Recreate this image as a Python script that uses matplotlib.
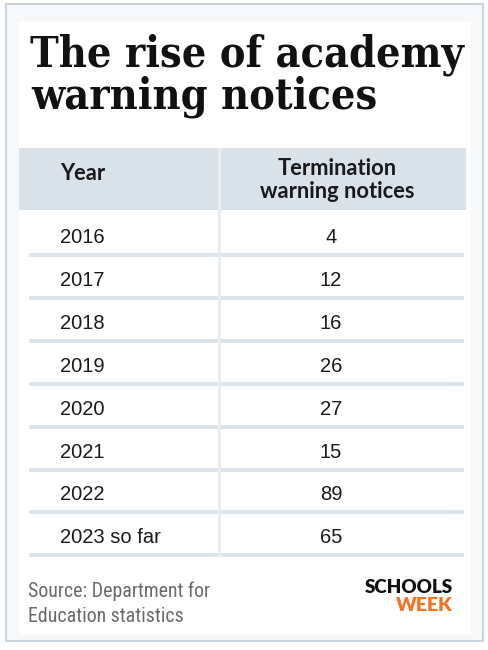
import matplotlib
matplotlib.use("Agg")
import matplotlib.pyplot as plt
from matplotlib import font_manager as fm
from matplotlib.patches import Rectangle

# ---- data ----
title_lines = ["The rise of academy", "warning notices"]
col_headers = ["Year", "Termination\nwarning notices"]
years = ["2016", "2017", "2018", "2019", "2020", "2021", "2022", "2023 so far"]
notices = [4, 12, 16, 26, 27, 15, 89, 65]
source_lines = ["Source: Department for", "Education statistics"]
logo_lines = ["SCHOOLS", "WEEK"]

# ---- fonts ----
ttf = fm.fontManager.ttflist
names = {f.name for f in ttf}

def pick(*cands):
    for c in cands:
        if c in names:
            return c
    return "DejaVu Sans"

has_cond_serif = any(f.name == "DejaVu Serif" and f.stretch == "condensed" for f in ttf)
TITLE_FONT = "DejaVu Serif" if has_cond_serif else pick("Liberation Serif", "DejaVu Serif")
HEAD_FONT = pick("Lato", "Inter", "Open Sans")
BODY_FONT = pick("Liberation Sans", "Roboto")
SRC_FONT = pick("Liberation Sans Narrow", "Roboto Condensed", "Roboto")
LOGO_FONT = pick("Lato", "Inter", "Open Sans")

W, H = 489, 650
fig = plt.figure(figsize=(W / 100, H / 100), dpi=100)
ax = fig.add_axes([0, 0, 1, 1])
ax.set_xlim(0, W)
ax.set_ylim(H, 0)
ax.axis("off")
fig.patch.set_facecolor("white")
renderer = fig.canvas.get_renderer()

def fit(t, target_w):
    bb = t.get_window_extent(renderer)
    t.set_fontsize(t.get_fontsize() * target_w / bb.width)

# outer frame
ax.add_patch(Rectangle((6, 4), 477, 637, facecolor="#f6f8fa", edgecolor="#c8d5e0", lw=1.5, zorder=0))
ax.add_patch(Rectangle((19, 22), 452, 612, facecolor="white", edgecolor="none", zorder=0.5))

# title
tkw = dict(family=TITLE_FONT, weight="bold", color="#111111", va="baseline", ha="left")
if has_cond_serif:
    tkw["stretch"] = "condensed"
t1 = ax.text(30, 67, title_lines[0], fontsize=30, **tkw)
fit(t1, 432)
t2 = ax.text(31, 108, title_lines[1], fontsize=t1.get_fontsize(), **tkw)

# header band
hx0, hx1, hy0, hy1 = 19, 466, 148, 210
ax.add_patch(Rectangle((hx0, hy0), hx1 - hx0, hy1 - hy0, facecolor="#d9e1e9", edgecolor="none", zorder=1))
hl = col_headers[1].split("\n")
h1 = ax.text(337, 175, hl[0], family=HEAD_FONT, weight="bold", fontsize=13.5,
             color="#1a1a1a", ha="center", va="baseline", zorder=3)
fit(h1, 119)
hs = h1.get_fontsize()
ax.text(337, 198, hl[1], family=HEAD_FONT, weight="bold", fontsize=hs,
        color="#1a1a1a", ha="center", va="baseline", zorder=3)
ax.text(60, 180, col_headers[0], family=HEAD_FONT, weight="bold", fontsize=hs,
        color="#1a1a1a", ha="left", va="baseline", zorder=3)

# rows
pitch = 42.9
sep0 = 255
for i, (yr, v) in enumerate(zip(years, notices)):
    sy = sep0 + pitch * i
    ax.add_patch(Rectangle((29, sy - 2), 435, 4, facecolor="#dde5ec", edgecolor="none", zorder=1))
    ax.text(60, sy - 12, yr, family=BODY_FONT, fontsize=14.5, color="#1a1a1a",
            ha="left", va="baseline", zorder=3)
    ax.text(331, sy - 12, str(v), family=BODY_FONT, fontsize=14.5, color="#1a1a1a",
            ha="center", va="baseline", zorder=3)

# column divider
last = sep0 + pitch * (len(years) - 1)
ax.add_patch(Rectangle((217.5, hy0), 3, last + 2 - hy0, facecolor="#e7edf2", edgecolor="none", zorder=2))

# source
s1 = ax.text(28, 597, source_lines[0], family=SRC_FONT, fontsize=15, color="#6a6a6a",
             ha="left", va="baseline")
fit(s1, 182)
ax.text(28, 622, source_lines[1], family=SRC_FONT, fontsize=s1.get_fontsize(), color="#6a6a6a",
        ha="left", va="baseline")

# logo
ax.text(453, 593, logo_lines[0], family=LOGO_FONT, weight="heavy", fontsize=13.5,
        color="#111111", ha="right", va="baseline")
ax.text(453, 611, logo_lines[1], family=LOGO_FONT, weight="heavy", fontsize=14,
        color="#f47521", ha="right", va="baseline")

fig.savefig("out.png", dpi=100, facecolor="white")
